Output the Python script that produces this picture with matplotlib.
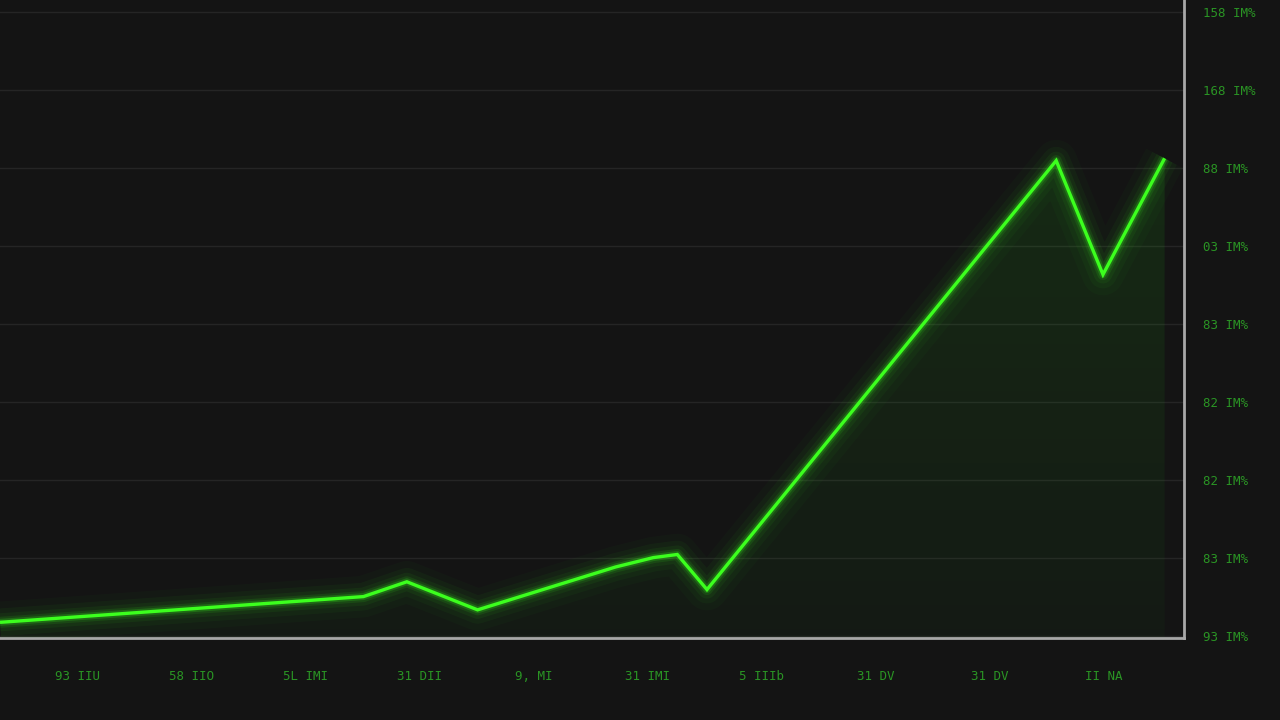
import matplotlib
matplotlib.use("Agg")
import matplotlib.pyplot as plt
import numpy as np
from matplotlib.patches import Polygon

# Data (grid units)
x_vals = [-0.675, 2.51, 2.89, 3.51, 4.72, 5.05, 5.26, 5.52, 8.58, 8.99, 9.53]
y_vals = [0.17, 0.50, 0.69, 0.33, 0.88, 1.00, 1.04, 0.59, 6.09, 4.63, 6.12]

x_ticks = list(range(10))
x_labels = ["93 IIU", "58 IIO", "5L IMI", "31 DII", "9, MI", "31 IMI",
            "5 IIIb", "31 DV", "31 DV", "II NA"]
y_ticks = list(range(9))
y_labels = ["93 IM%", "83 IM%", "82 IM%", "82 IM%", "83 IM%", "03 IM%",
            "88 IM%", "168 IM%", "158 IM%"]

BG = "#141414"
LINE = "#3cff1e"
LABEL = "#2a9424"

fig = plt.figure(figsize=(12.8, 7.2), dpi=100, facecolor=BG)
ax = fig.add_axes([0.0, 0.114, 0.925, 0.886])
ax.set_facecolor(BG)

xmin, xmax = -0.675, 9.70
ymin, ymax = -0.03, 8.15
ax.set_xlim(xmin, xmax)
ax.set_ylim(ymin, ymax)

# grid
for yt in y_ticks:
    ax.axhline(yt, color="#252525", lw=1.0, zorder=1)

# gradient haze under the line
verts = [(x_vals[0], ymin)] + list(zip(x_vals, y_vals)) + [(x_vals[-1], ymin)]
poly = Polygon(verts, closed=True, facecolor="none", edgecolor="none")
ax.add_patch(poly)
grad = np.zeros((256, 2, 4))
g = np.linspace(0, 1, 256)[:, None]
grad[..., 0] = 0.15
grad[..., 1] = 0.9
grad[..., 2] = 0.1
grad[..., 3] = 0.03 + 0.08 * g
im = ax.imshow(grad, extent=[xmin, xmax, ymin, 6.2], origin="lower",
               aspect="auto", zorder=2, interpolation="bilinear")
im.set_clip_path(poly)

# glow layers
for lw, a in [(30, 0.025), (20, 0.04), (13, 0.06), (8, 0.10), (5, 0.2)]:
    ax.plot(x_vals, y_vals, color=LINE, lw=lw, alpha=a, solid_joinstyle="round",
            solid_capstyle="butt", zorder=3)
ax.plot(x_vals, y_vals, color=LINE, lw=2.4, solid_joinstyle="miter",
        solid_capstyle="butt", zorder=4)

# spines
for s in ["top", "left"]:
    ax.spines[s].set_visible(False)
for s in ["bottom", "right"]:
    ax.spines[s].set_color("#a8a8a8")
    ax.spines[s].set_linewidth(2)

ax.yaxis.tick_right()
ax.set_yticks(y_ticks)
ax.set_yticklabels(y_labels, family="DejaVu Sans Mono", fontsize=9, color=LABEL)
ax.set_xticks(x_ticks)
ax.set_xticklabels(x_labels, family="DejaVu Sans Mono", fontsize=9, color=LABEL)
ax.tick_params(axis="y", length=0, pad=14)
ax.tick_params(axis="x", length=0, pad=23)

fig.savefig("out.png", dpi=100, facecolor=BG)
